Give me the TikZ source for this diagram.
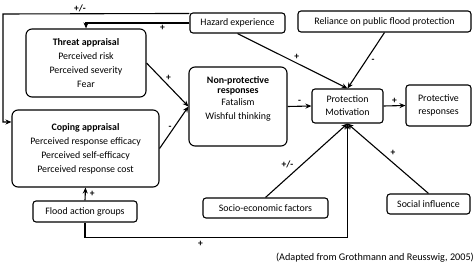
\documentclass[tikz,border=0pt]{standalone}
\usepackage{fontspec}
\setmainfont{Carlito}
\usetikzlibrary{arrows.meta,positioning,calc}

\begin{document}
\begin{tikzpicture}[
  x=1pt, y=-1pt, >={Stealth[length=6pt,width=5pt]},
  font=\fontsize{9.9}{14}\selectfont,
  box/.style={draw, line width=1.1pt, rounded corners=6pt, align=center, inner sep=0pt},
  sbox/.style={draw, line width=1.1pt, rounded corners=3pt, align=center, inner sep=0pt},
  arr/.style={->, line width=1.1pt},
  lbl/.style={font=\fontsize{9.5}{10}\selectfont\bfseries, inner sep=2pt}]
  \useasboundingbox (0,0) rectangle (474,267);
  % appraisal boxes
  \node[box, minimum width=120, minimum height=68] (threat) at (86,63)
    {\textbf{Threat appraisal}\\ Perceived risk\\ Perceived severity\\ Fear};
  \node[box, minimum width=147, minimum height=77] (coping) at (85.5,148.5)
    {\textbf{Coping appraisal}\\ Perceived response efficacy\\ Perceived self-efficacy\\ Perceived response cost};
  \node[box, minimum width=98, minimum height=79] (nonprot) at (238,106.5)
    {\textbf{Non-protective}\\[-4pt] \textbf{responses}\\[-2pt] Fatalism\\ Wishful thinking\\[2pt] {}};
  \node[sbox, minimum width=71, minimum height=34, font=\fontsize{9.9}{13}\selectfont] (pm) at (347.5,106)
    {Protection\\ Motivation};
  \node[sbox, minimum width=65, minimum height=41, font=\fontsize{9.9}{13}\selectfont] (prot) at (438.5,105.5)
    {Protective\\ responses};
  % factor boxes
  \node[sbox, minimum width=95, minimum height=20] (hazard) at (237.5,23) {Hazard experience};
  \node[sbox, minimum width=173, minimum height=21] (reliance) at (384.5,21.5) {Reliance on public flood protection};
  \node[sbox, minimum width=104, minimum height=21] (flood) at (85,211.5) {Flood action groups};
  \node[sbox, minimum width=125, minimum height=20] (socio) at (265.5,208) {Socio-economic factors};
  \node[sbox, minimum width=83, minimum height=20] (social) at (428.5,204) {Social influence};
  \node[anchor=east, inner sep=0pt, font=\fontsize{10.2}{12}\selectfont] (source) at (474,258) {(Adapted from Grothmann and Reusswig, 2005)};
  % connectors
  \draw[arr] ([yshift=-1]hazard.north west) -- (3,14) -- (3,122)
    node[lbl, pos=0, above=0pt, xshift=77] {+/-} -- (coping.west |- 0,122);
  \draw[arr] (hazard.west) -| node[lbl, pos=0.13, below] {+} (threat.north);
  \draw[arr] (hazard.south) -- node[lbl, midway, above right=-1pt] {+} (pm.north);
  \draw[arr] (reliance.south) -- node[lbl, midway, right=3pt] {-} (pm.north);
  \draw[arr] (threat.east) -- node[lbl, midway, above right=2pt and -4pt] {+} (nonprot.west);
  \draw[arr] (coping.east) -- node[lbl, midway, left] {-} (nonprot.west);
  \draw[arr] (nonprot.east) -- node[lbl, midway, above] {-} (pm.west);
  \draw[arr] (pm.east) -- node[lbl, midway, above] {+} (prot.west);
  \draw[arr] (socio.north) -- node[lbl, pos=0.37, above left] {+/-} (pm.south);
  \draw[arr] (social.north) -- node[lbl, midway, above right] {+} (pm.south);
  \draw[arr] (flood.north) -- node[lbl, midway, right=2pt] {+} (coping.south);
  \draw[arr] (flood.south) -- ++(0,15) -| node[lbl, pos=0.22, below=1pt] {+} (pm.south);
\end{tikzpicture}
\end{document}
